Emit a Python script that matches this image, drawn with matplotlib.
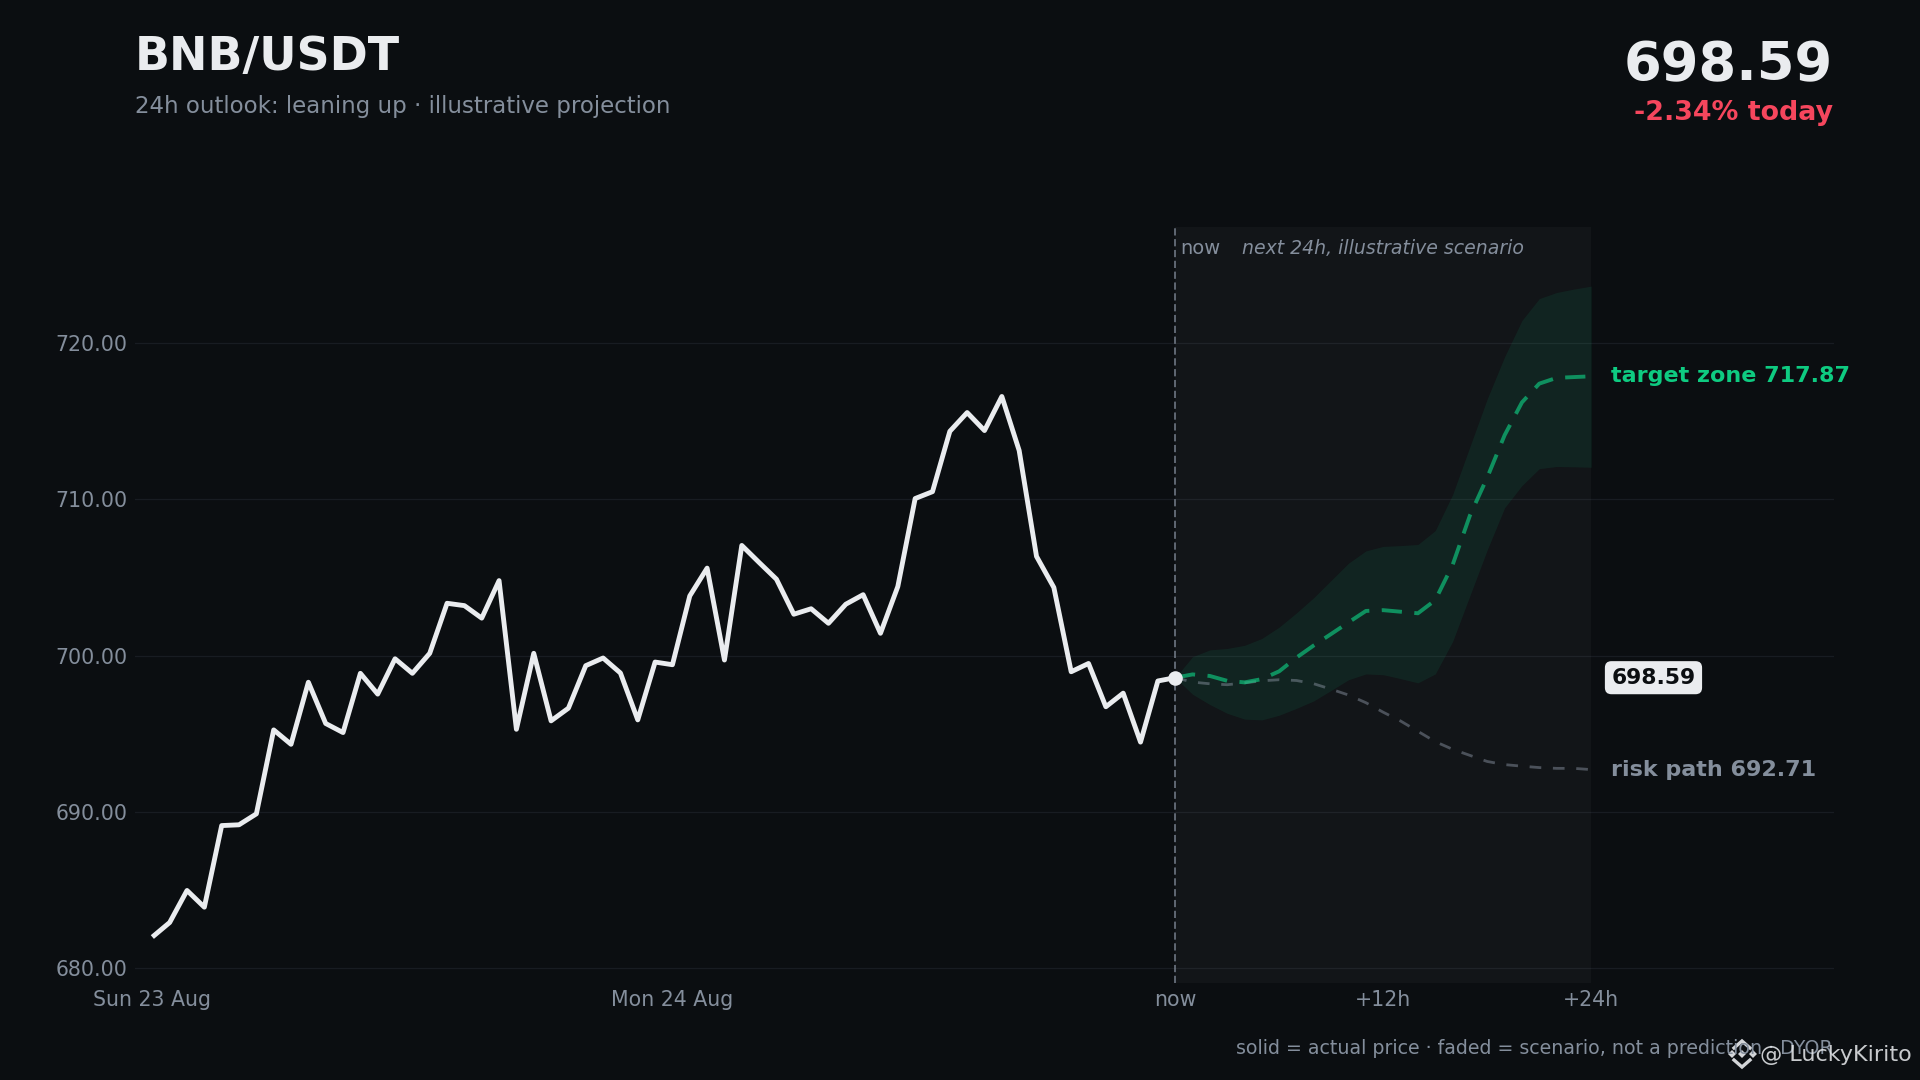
"""
BNB/USDT 24h outlook -- actual price and illustrative scenario
"""

from matplotlib import pyplot as plt
from matplotlib.lines import Line2D

BG = '#0B0E11'
TEXT = '#EAECEF'
GREY = '#848E9C'
GREEN = '#0ECB81'
RED = '#F6465D'

price = [682.0, 682.93, 684.98, 683.91, 689.13, 689.18, 689.88, 695.25, 694.33, 698.3,
         695.66, 695.08, 698.87, 697.54, 699.8, 698.87, 700.15, 703.35, 703.2, 702.4,
         704.8, 695.29, 700.15, 695.83, 696.64, 699.36, 699.85, 698.89, 695.89, 699.59,
         699.42, 703.82, 705.6, 699.72, 707.05, 705.96, 704.89, 702.65, 703.0, 702.07,
         703.29, 703.9, 701.43, 704.42, 710.05, 710.49, 714.35, 715.55, 714.4, 716.58,
         713.12, 706.35, 704.36, 698.97, 699.5, 696.73, 697.6, 694.47, 698.38, 698.59]

target = [698.59, 698.8, 698.7, 698.39, 698.29, 698.5, 699.0, 699.88, 700.66, 701.39,
          702.13, 702.86, 702.91, 702.81, 702.71, 703.55, 705.8, 708.97, 711.4, 714.1,
          716.2, 717.4, 717.77, 717.82, 717.87]
upper = [698.59, 699.93, 700.37, 700.46, 700.66, 701.1, 701.83, 702.74, 703.72, 704.82,
         705.92, 706.7, 706.99, 707.04, 707.11, 708.0, 710.3, 713.37, 716.43, 719.12,
         721.44, 722.84, 723.23, 723.45, 723.64]
lower = [698.59, 697.53, 696.87, 696.31, 695.94, 695.89, 696.19, 696.63, 697.11, 697.78,
         698.46, 698.83, 698.78, 698.53, 698.26, 698.83, 700.9, 703.84, 706.77, 709.46,
         710.88, 711.96, 712.1, 712.08, 712.05]
risk = [698.59, 698.31, 698.2, 698.14, 698.26, 698.39, 698.46, 698.41, 698.2, 697.85,
        697.48, 696.99, 696.38, 695.82, 695.16, 694.5, 694.01, 693.62, 693.23, 693.03,
        692.93, 692.84, 692.79, 692.79, 692.71]

y_ticks = [680, 690, 700, 710, 720]
x_ticks = [0, 30, 59, 71, 83]
x_labels = ['Sun 23 Aug', 'Mon 24 Aug', 'now', '+12h', '+24h']

hist_x = list(range(len(price)))
now = hist_x[-1]
future_x = [now + i for i in range(len(target))]

plt.rcParams['font.family'] = ['DejaVu Sans']

fig = plt.figure(figsize=(19.2, 10.8), dpi=100, facecolor=BG)
ax = fig.add_axes([135 / 1920, 1 - 983 / 1080, 1699 / 1920, 756 / 1080], facecolor=BG)
ax.set_xlim(-1, 97)
ax.set_ylim(679.06, 727.42)

for s in ax.spines.values():
    s.set_visible(False)
ax.set_yticks(y_ticks)
ax.set_yticklabels(['%.2f' % v for v in y_ticks])
ax.set_xticks(x_ticks)
ax.set_xticklabels(x_labels)
ax.tick_params(length=0, labelsize=14.8, labelcolor=GREY)
ax.tick_params(axis='y', pad=5.5)
ax.tick_params(axis='x', pad=4.7)
ax.grid(axis='y', color='#181C22', lw=0.9)
ax.set_axisbelow(True)

# scenario area
ax.axvspan(now, future_x[-1], color='#FFFFFF', alpha=0.033, lw=0)
ax.fill_between(future_x, lower, upper, color=GREEN, alpha=0.085, lw=0)
ax.axvline(now, color=GREY, lw=1.3, alpha=0.75, dashes=(4, 2))

ax.plot(future_x, risk, color=GREY, lw=2, alpha=0.5, dashes=(4.2, 4.2))
ax.plot(future_x, target, color=GREEN, lw=2.8, alpha=0.65, dashes=(5.2, 3.2))
ax.plot(hist_x, price, color=TEXT, lw=3.5, solid_joinstyle='round', solid_capstyle='butt')
ax.plot([now], [price[-1]], 'o', color=TEXT, ms=10.5, mew=0, zorder=5)

# right labels
ax.annotate('target zone %.2f' % target[-1], (future_x[-1], target[-1]), xytext=(14.5, 0),
            textcoords='offset points', color=GREEN, fontsize=16, fontweight='bold', va='center')
ax.annotate('risk path %.2f' % risk[-1], (future_x[-1], risk[-1]), xytext=(14.5, 0),
            textcoords='offset points', color=GREY, fontsize=16, fontweight='bold', va='center')
ax.annotate('%.2f' % price[-1], (future_x[-1], price[-1]), xytext=(14.5, 0),
            textcoords='offset points', color=BG, fontsize=15.7, fontweight='bold', va='center',
            bbox=dict(boxstyle='round,pad=0.3', fc=TEXT, ec='none'))

ax.text(now + 0.3, 726.05, 'now', color=GREY, fontsize=14, va='center')
ax.text(now + 3.84, 726.05, 'next 24h, illustrative scenario', color=GREY, fontsize=13.6,
        style='italic', va='center')

# header
fig.text(135 / 1920, 1 - 57.5 / 1080, 'BNB/USDT', color=TEXT, fontsize=33, fontweight='bold', va='center')
fig.text(135 / 1920, 1 - 107 / 1080, '24h outlook: leaning up · illustrative projection',
         color=GREY, fontsize=16.5, va='center')
fig.text(1833 / 1920, 1 - 65.5 / 1080, '%.2f' % price[-1], color=TEXT, fontsize=39.1, fontweight='bold',
         ha='right', va='center')
fig.text(1833 / 1920, 1 - 113 / 1080, '-2.34% today', color=RED, fontsize=19.4, fontweight='bold',
         ha='right', va='center')

# footer and watermark
fig.text(1833 / 1920, 1 - 1048 / 1080, 'solid = actual price · faded = scenario, not a prediction · DYOR',
         color=GREY, fontsize=13.7, ha='right', va='center')
fig.text(1760 / 1920, 1 - 1055 / 1080, '@ LuckyKirito', color=TEXT, alpha=0.85, fontsize=16, va='center')

# watermark logo, pixel offsets from its centre
logo_x = 1742
logo_y = 1054


def logo_line(xs, ys, **kw):
    fig.add_artist(Line2D([(logo_x + v) / 1920 for v in xs], [1 - (logo_y + v) / 1080 for v in ys],
                          color=TEXT, alpha=0.9, transform=fig.transFigure, **kw))


for dx in [-10.5, 0, 10.5]:
    logo_line([dx], [0], marker='D', ms=3.6, mew=0)
logo_line([-8, 0, 8], [-6, -13, -6], lw=2.4, solid_joinstyle='miter')
logo_line([-8, 0, 8], [6, 13, 6], lw=2.4, solid_joinstyle='miter')

fig.savefig('out.png', dpi=100, facecolor=BG)
